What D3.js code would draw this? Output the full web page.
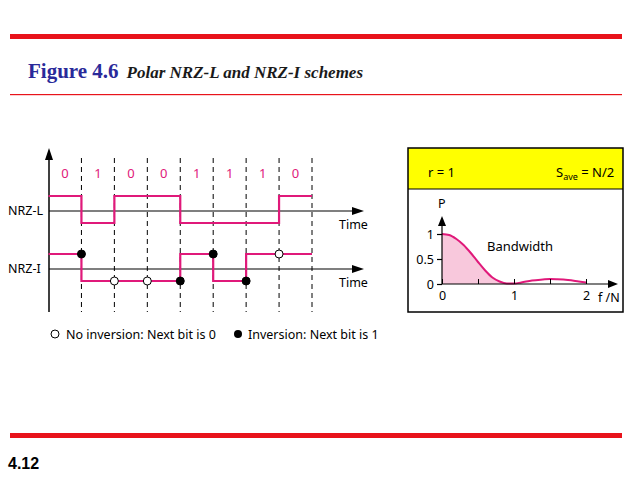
<!DOCTYPE html><html><head><meta charset="utf-8"><script src="https://cdn.jsdelivr.net/npm/d3@7"></script>
<style>body{margin:0;background:#fff}</style></head><body><svg id="c" width="638" height="478"></svg><script>
const bits=[0,1,0,0,1,1,1,0];
const nrzl=[1,-1,1,1,-1,-1,-1,1];
const nrzi=[1,-1,-1,-1,1,-1,1,1];
const marks=[{i:1,type:"fill"},{i:2,type:"open"},{i:3,type:"open"},{i:4,type:"fill"},{i:5,type:"fill"},{i:6,type:"fill"},{i:7,type:"open"}];
const psdF=[0,0.1,0.2,0.3,0.4,0.5,0.6,0.7,0.8,0.9,1,1.1,1.25,1.4,1.5,1.6,1.75,1.9,2];
const psdP=[1,0.98,0.9,0.78,0.62,0.44,0.27,0.13,0.05,0.01,0.01,0.03,0.07,0.09,0.1,0.095,0.08,0.05,0.03];
const mag="#e0197a";
const s=d3.select("#c");
s.append("rect").attr("x",10).attr("y",34).attr("width",612).attr("height",5).attr("fill","#e8131b");
s.append("rect").attr("x",10).attr("y",94).attr("width",612).attr("height",1.2).attr("fill","#e8131b");
s.append("rect").attr("x",10).attr("y",433).attr("width",612).attr("height",5).attr("fill","#e8131b");
const t=s.append("text").attr("x",28).attr("y",78).attr("font-family","Liberation Serif").attr("font-weight","bold").attr("fill","#2a2a9a");
t.append("tspan").attr("font-size",21).text("Figure 4.6");
t.append("tspan").attr("font-size",17).attr("font-style","italic").attr("fill","#1a1a1a").attr("dx",8).text("Polar NRZ-L and NRZ-I schemes");
s.append("text").attr("x",8).attr("y",469).attr("font-family","Liberation Sans").attr("font-weight","bold").attr("font-size",16).text("4.12");
const x=d3.scaleLinear().domain([0,8]).range([48.5,312]);
const f="Noto Sans";
s.append("line").attr("x1",49).attr("x2",49).attr("y1",312).attr("y2",156).attr("stroke","#000").attr("stroke-width",1.5);
s.append("path").attr("d","M45,160L49,148L53,160Z");
[[211,"NRZ-L",196,223,nrzl],[269,"NRZ-I",254,281,nrzi]].forEach(([ay,lab,hi,lo,arr])=>{
 s.append("line").attr("x1",49).attr("x2",358).attr("y1",ay).attr("y2",ay).attr("stroke","#000").attr("stroke-width",1.2);
 s.append("path").attr("d",`M352,${ay-4}L364,${ay}L352,${ay+4}Z`);
 s.append("text").attr("x",8).attr("y",ay+4).attr("font-family",f).attr("font-size",12.5).text(lab);
 s.append("text").attr("x",339).attr("y",ay+18).attr("font-family",f).attr("font-size",12.5).text("Time");
 const y=d3.scaleLinear().domain([-1,1]).range([lo,hi]);
 const pts=[];arr.forEach((v,i)=>{pts.push([x(i),y(v)]);pts.push([x(i+1),y(v)]);});
 s.append("path").attr("d",d3.line()(pts)).attr("fill","none").attr("stroke",mag).attr("stroke-width",2.2);
 if(lab==="NRZ-I") marks.forEach(m=>{
   s.append("circle").attr("cx",x(m.i)).attr("cy",m.type==="open"?y(arr[m.i]):y(arr[m.i-1])).attr("r",4).attr("fill",m.type==="open"?"#fff":"#000").attr("stroke","#000");});
});
d3.range(1,9).forEach(i=>s.insert("line",":first-child").attr("x1",x(i)).attr("x2",x(i)).attr("y1",158).attr("y2",312).attr("stroke","#000").attr("stroke-dasharray","5,4"));
bits.forEach((b,i)=>s.append("text").attr("x",x(i+0.5)).attr("y",178).attr("text-anchor","middle").attr("font-family",f).attr("font-size",13).attr("fill",mag).text(b));
s.append("circle").attr("cx",55).attr("cy",334).attr("r",4).attr("fill","#fff").attr("stroke","#000");
s.append("text").attr("x",66).attr("y",338.5).attr("font-family",f).attr("font-size",12.5).text("No inversion: Next bit is 0");
s.append("circle").attr("cx",238).attr("cy",334).attr("r",4);
s.append("text").attr("x",248).attr("y",338.5).attr("font-family",f).attr("font-size",12.5).text("Inversion: Next bit is 1");
s.append("rect").attr("x",408).attr("y",148).attr("width",215).attr("height",41).attr("fill","#ffff00");
s.append("rect").attr("x",408).attr("y",148).attr("width",215).attr("height",164).attr("fill","none").attr("stroke","#000").attr("stroke-width",1.5);
s.append("line").attr("x1",408).attr("x2",623).attr("y1",189).attr("y2",189).attr("stroke","#000").attr("stroke-width",1.2);
s.append("text").attr("x",428).attr("y",177).attr("font-family",f).attr("font-size",13).text("r = 1");
const sv=s.append("text").attr("x",556).attr("y",177).attr("font-family",f).attr("font-size",13);
sv.append("tspan").text("S");sv.append("tspan").attr("font-size",9).attr("dy",3).text("ave");sv.append("tspan").attr("dy",-3).text(" = N/2");
const px=d3.scaleLinear().domain([0,2]).range([442,586]);
const py=d3.scaleLinear().domain([0,1]).range([284,234]);
const data=psdF.map((v,i)=>[v,psdP[i]]);
s.append("path").attr("d",d3.area().x(d=>px(d[0])).y0(py(0)).y1(d=>py(d[1])).curve(d3.curveMonotoneX)(data.filter(d=>d[0]<=1))).attr("fill","#f8c8dc");
s.append("path").attr("d",d3.line().x(d=>px(d[0])).y(d=>py(d[1])).curve(d3.curveMonotoneX)(data)).attr("fill","none").attr("stroke",mag).attr("stroke-width",2);
s.append("line").attr("x1",442).attr("x2",442).attr("y1",284).attr("y2",222).attr("stroke","#000").attr("stroke-width",1.2);
s.append("path").attr("d","M438,226L442,216L446,226Z");
s.append("line").attr("x1",442).attr("x2",612).attr("y1",284).attr("y2",284).attr("stroke","#000").attr("stroke-width",1.2);
s.append("path").attr("d","M608,280L618,284L608,288Z");
s.append("text").attr("x",438).attr("y",208).attr("font-family",f).attr("font-size",12.5).text("P");
s.append("g").attr("transform","translate(442,0)").call(d3.axisLeft(py).tickValues([0,0.5,1]).tickFormat(d3.format("")).tickSize(5)).call(g=>{g.select(".domain").remove();g.attr("font-size",12.5).attr("font-family",f);g.selectAll("line").attr("stroke-width",1.2);});
s.append("g").attr("transform","translate(0,284)").call(d3.axisBottom(px).tickValues([0,0.5,1,1.5,2]).tickFormat(d=>Number.isInteger(d)?d:"").tickSize(-5).tickPadding(7)).call(g=>{g.select(".domain").remove();g.attr("font-size",12.5).attr("font-family",f);});
s.append("text").attr("x",598).attr("y",302).attr("font-family",f).attr("font-size",12.5).text("f /N");
s.append("text").attr("x",487).attr("y",251).attr("font-family",f).attr("font-size",13).text("Bandwidth");
</script></body></html>
